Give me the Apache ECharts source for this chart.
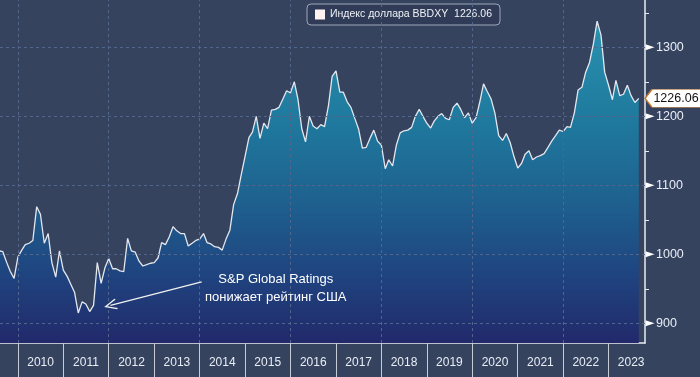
<!DOCTYPE html>
<html><head><meta charset="utf-8">
<script src="https://cdn.jsdelivr.net/npm/echarts@6/dist/echarts.min.js"></script>
<style>html,body{margin:0;padding:0;background:#36435f;}#c{width:700px;height:377px;}</style>
</head><body><div id="c"></div>
<script>
// ---- data (monthly values, first point Aug 2009) ----
const seriesName = 'Индекс доллара BBDXY';
const lastValue = 1226.06;
const v2009 = [1005, 1004, 989, 975, 965]; // Aug-Dec
const v2010 = [996, 1006, 1014, 1016, 1020, 1069, 1058, 1016, 1030, 988, 967, 1005];
const v2011 = [977, 968, 957, 945, 915, 931, 928, 917, 926, 988, 958, 980];
const v2012 = [994, 979, 979, 976, 975, 1023, 1005, 1003, 990, 983, 985, 987];
const v2013 = [988, 995, 1017, 1014, 1025, 1040, 1034, 1030, 1030, 1012, 1016, 1020];
const v2014 = [1022, 1030, 1017, 1015, 1011, 1010, 1006, 1022, 1035, 1072, 1088, 1115];
const v2015 = [1142, 1169, 1177, 1200, 1168, 1190, 1182, 1209, 1210, 1213, 1225, 1237];
const v2016 = [1234, 1250, 1225, 1182, 1163, 1200, 1186, 1182, 1188, 1185, 1215, 1258];
const v2017 = [1266, 1235, 1235, 1221, 1213, 1197, 1182, 1154, 1155, 1168, 1180, 1164];
const v2018 = [1158, 1124, 1137, 1128, 1158, 1176, 1179, 1180, 1184, 1200, 1210, 1200];
const v2019 = [1190, 1183, 1193, 1200, 1204, 1197, 1195, 1213, 1219, 1210, 1198, 1205];
const v2020 = [1190, 1198, 1220, 1247, 1236, 1225, 1205, 1172, 1165, 1175, 1162, 1142];
const v2021 = [1125, 1132, 1145, 1150, 1137, 1141, 1143, 1146, 1155, 1164, 1172, 1180];
const v2022 = [1178, 1185, 1184, 1205, 1238, 1242, 1264, 1278, 1305, 1338, 1318, 1264];
const v2023 = [1245, 1224, 1252, 1230, 1232, 1245, 1230, 1220, 1226.06]; // Jan-Sep
const yearlyValues = [v2009, v2010, v2011, v2012, v2013, v2014, v2015, v2016, v2017, v2018, v2019, v2020, v2021, v2022, v2023];
const firstYear = 2009, firstMonth = 8;

const yearLabels = [2010, 2011, 2012, 2013, 2014, 2015, 2016, 2017, 2018, 2019, 2020, 2021, 2022, 2023];
const gridYears = [2010, 2012, 2014, 2016, 2018, 2020, 2022];
const yMinorTicks = [950, 1050, 1150, 1250, 1350];
const yLabels = [900, 1000, 1100, 1200, 1300];
const annotationLines = ['S&P Global Ratings', 'понижает рейтинг США'];
const annotationAt = ['2015-09-05', 951];
const arrowFrom = ['2014-01-17', 960];
const arrowTo = ['2012-01-15', 926];
const xRange = ['2009-08-10', '2023-10-21'];
const yRange = [871.4, 1368.6];

// ---- build ----
function ts(s) { const p = s.split('-').map(Number); return new Date(p[0], p[1] - 1, p[2]).getTime(); }
const seriesData = [];
yearlyValues.forEach((arr, k) => {
  const y = firstYear + k;
  const m0 = k === 0 ? firstMonth : 1;
  arr.forEach((v, j) => seriesData.push([new Date(y, m0 - 1 + j, 1).getTime(), v]));
});

const gridColor = '#52668c';
const chevron = 'path://M5,0 L10,12 L9,13 L5,3 L1,13 L0,12 Z';
const pointer = 'path://M0,0 L10,4 L0,8 Z';
const tagShape = 'path://M0,9 L7,0 L56,0 L56,18 L7,18 Z';

const chart = echarts.init(document.getElementById('c'), null, { renderer: 'canvas' });
chart.setOption({
  backgroundColor: '#36435f',
  animation: false,
  textStyle: { fontFamily: 'Liberation Sans' },
  legend: {
    left: 307, top: 4,
    padding: [5, 8, 5, 8],
    backgroundColor: '#303c57',
    borderColor: '#9ea7b8', borderWidth: 1, borderRadius: 4,
    icon: 'rect', itemWidth: 10, itemHeight: 10, itemGap: 5,
    data: [{ name: seriesName, itemStyle: { color: '#fff2f0' } }],
    formatter: n => n + '  ' + lastValue.toFixed(2),
    textStyle: { color: '#eef1f6', fontSize: 10.5, fontFamily: 'Liberation Sans' }
  },
  grid: { left: 0, right: 55, top: 0, bottom: 34, containLabel: false },
  xAxis: {
    type: 'value', min: ts(xRange[0]), max: ts(xRange[1]),
    axisLine: { show: true, lineStyle: { color: '#e8ecf2', width: 1.5 } },
    axisTick: { show: true, length: 34, lineStyle: { color: '#c7ccd6' },
      customValues: yearLabels.map(y => new Date(y, 0, 1).getTime()) },
    axisLabel: { show: true, margin: 14, color: '#e8eef6', fontSize: 12, fontFamily: 'Liberation Sans',
      customValues: yearLabels.map(y => new Date(y, 6, 2).getTime()),
      formatter: v => String(new Date(v).getFullYear()) },
    splitLine: { show: false }
  },
  yAxis: {
    type: 'value', position: 'right', min: yRange[0], max: yRange[1],
    axisLine: { show: true, lineStyle: { color: '#e8ecf2', width: 1.5 } },
    axisTick: { show: true, length: 4, lineStyle: { color: '#e8ecf2' }, customValues: yMinorTicks },
    axisLabel: { show: true, margin: 11, customValues: yLabels, formatter: v => String(v),
      color: '#e8eef6', fontSize: 12.5, fontFamily: 'Liberation Sans' },
    splitLine: { show: false }
  },
  series: [{
    name: seriesName, type: 'line', data: seriesData,
    showSymbol: false, symbol: 'none',
    itemStyle: { color: '#fff2f0' },
    lineStyle: { color: '#e4e7ee', width: 1.3 },
    areaStyle: {
      origin: 'start', opacity: 1,
      color: new echarts.graphic.LinearGradient(0, 0, 0, 1, [
        { offset: 0, color: '#2a92b0' },
        { offset: 0.3, color: '#1f7a9e' },
        { offset: 0.55, color: '#1e6290' },
        { offset: 0.78, color: '#1f4580' },
        { offset: 1, color: '#22296b' }
      ])
    },
    markLine: {
      silent: true, symbol: 'none', animation: false,
      label: { show: false },
      lineStyle: { type: [3, 3], color: gridColor, width: 1 },
      data: [
        ...yLabels.map(v => ({ yAxis: v })),
        ...gridYears.map(y => ({ xAxis: new Date(y, 0, 1).getTime() })),
        [
          { coord: [ts(arrowFrom[0]), arrowFrom[1]], symbol: 'none',
            lineStyle: { type: 'solid', color: '#f2f2f2', width: 1.2, opacity: 1 } },
          { coord: [ts(arrowTo[0]), arrowTo[1]], symbol: chevron, symbolSize: [11, 13] }
        ]
      ]
    },
    markPoint: {
      silent: true, animation: false,
      data: [
        {
          coord: [ts(annotationAt[0]), annotationAt[1]],
          symbol: 'circle', symbolSize: 1, itemStyle: { color: 'rgba(0,0,0,0)' },
          label: { show: true, position: 'inside', formatter: annotationLines.join('\n'),
            color: '#ffffff', fontSize: 13, lineHeight: 18, align: 'center', fontFamily: 'Liberation Sans' }
        },
        // pointer markers at the major y ticks, just right of the axis line
        ...yLabels.map(v => ({
          coord: [ts(xRange[1]), v], symbol: pointer, symbolSize: [9, 6], symbolOffset: [5, 0],
          itemStyle: { color: '#ffffff' }, label: { show: false }
        })),
        // last value tag on the axis
        {
          coord: [ts(xRange[1]), lastValue], symbol: tagShape, symbolSize: [56, 18], symbolOffset: [28, 0],
          itemStyle: { color: '#ffffff', borderColor: '#c8782c', borderWidth: 1 },
          label: { show: true, position: 'inside', offset: [3, 0], formatter: lastValue.toFixed(2),
            color: '#111111', fontSize: 12.5, fontFamily: 'Liberation Sans' }
        }
      ]
    }
  }]
});
</script></body></html>
